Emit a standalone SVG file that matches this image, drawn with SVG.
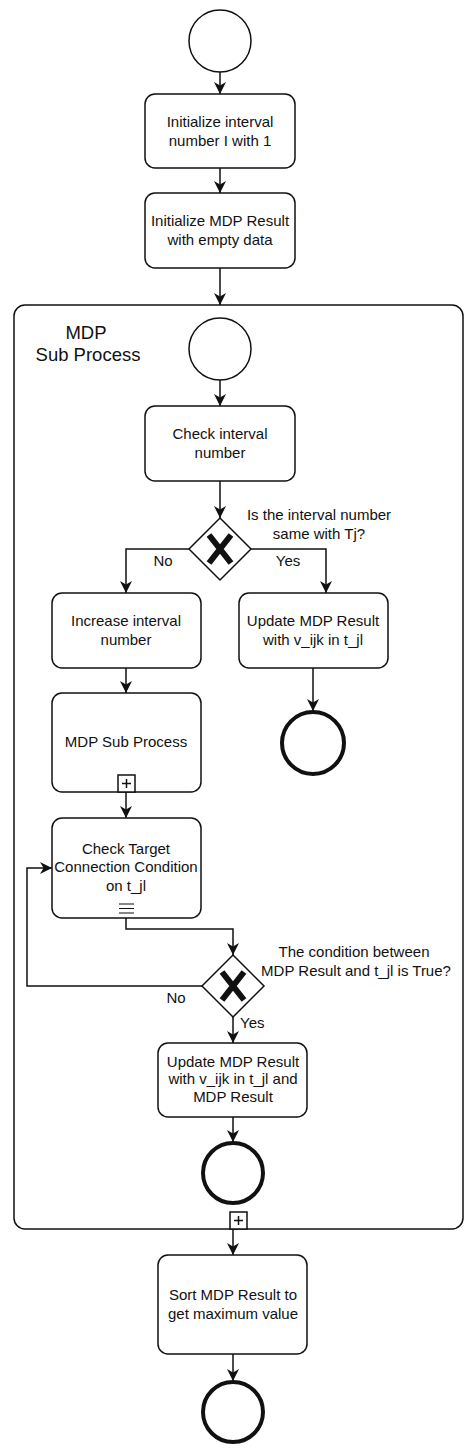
<svg xmlns="http://www.w3.org/2000/svg" width="474" height="1452" viewBox="0 0 474 1452">
<style>
.t{font-family:"Liberation Sans",Arial,sans-serif;font-size:15px;fill:#111;text-anchor:middle}
.box{fill:#fff;stroke:#111;stroke-width:1.5}
.ev{fill:#fff;stroke:#111;stroke-width:1.5}
.end{fill:#fff;stroke:#111;stroke-width:4}
.c{fill:none;stroke:#111;stroke-width:1.5}
.x{stroke:#111;stroke-width:6;stroke-linecap:butt}
</style>
<defs>
<marker id="a" markerUnits="userSpaceOnUse" markerWidth="12" markerHeight="12" refX="10" refY="5" orient="auto" viewBox="0 0 10 10">
<path d="M0,0 L10,5 L0,10 L3,5 z" fill="#111"/>
</marker>
</defs>
<rect width="474" height="1452" fill="#fff"/>
<g id="container">
<rect x="14" y="305" width="449" height="924" rx="11" class="box"/>
<text class="t" style="font-size:18.5px" x="86" y="339">MDP</text>
<text class="t" style="font-size:18.5px" x="88" y="361">Sub Process</text>
<rect x="230" y="1212" width="17" height="17" fill="#fff" stroke="#111" stroke-width="1.5"/>
<path d="M238.5,1216 V1225 M234,1220.5 H243" stroke="#111" stroke-width="1.5"/>
</g>
<g id="connectors">
<path class="c" marker-end="url(#a)" d="M220,72 V94"/>
<path class="c" marker-end="url(#a)" d="M220,168 V193"/>
<path class="c" marker-end="url(#a)" d="M220,268 V305"/>
<path class="c" marker-end="url(#a)" d="M220,380 V406"/>
<path class="c" marker-end="url(#a)" d="M220,481 V518"/>
<path class="c" marker-end="url(#a)" d="M189,549 H126 V593"/>
<path class="c" marker-end="url(#a)" d="M251,549 H326 V593"/>
<path class="c" marker-end="url(#a)" d="M313,668 V711"/>
<path class="c" marker-end="url(#a)" d="M126,668 V693"/>
<path class="c" marker-end="url(#a)" d="M126,792 V818"/>
<path class="c" marker-end="url(#a)" d="M126,918 V929 H233 V955"/>
<path class="c" marker-end="url(#a)" d="M202,986 H27 V868 H52"/>
<path class="c" marker-end="url(#a)" d="M233,1017 V1043"/>
<path class="c" marker-end="url(#a)" d="M233,1117 V1142"/>
<path class="c" marker-end="url(#a)" d="M233,1229 V1255"/>
<path class="c" marker-end="url(#a)" d="M233,1354 V1381"/>
<text class="t" x="163" y="566">No</text>
<text class="t" x="288" y="566">Yes</text>
<text class="t" x="176" y="1003">No</text>
<text class="t" x="240" y="1028" style="text-anchor:start">Yes</text>
</g>
<g id="start1"><circle cx="220" cy="41" r="31" class="ev"/></g>
<g id="init1">
<rect x="145" y="94" width="150" height="74" rx="10" class="box"/>
<text class="t" x="220" y="127">Initialize interval</text>
<text class="t" x="220" y="146">number I with 1</text>
</g>
<g id="init2">
<rect x="145" y="193" width="150" height="75" rx="10" class="box"/>
<text class="t" x="220" y="226">Initialize MDP Result</text>
<text class="t" x="220" y="245">with empty data</text>
</g>
<g id="start2"><circle cx="220" cy="349" r="31" class="ev"/></g>
<g id="check">
<rect x="145" y="406" width="150" height="75" rx="10" class="box"/>
<text class="t" x="220" y="439">Check interval</text>
<text class="t" x="220" y="458">number</text>
</g>
<g id="gw1">
<path d="M220,518 L251,549 L220,580 L189,549 Z" class="box"/>
<path d="M209,535 L231,563 M231,535 L209,563" class="x"/>
<text class="t" x="319" y="520">Is the interval number</text>
<text class="t" x="319" y="539">same with Tj?</text>
</g>
<g id="increase">
<rect x="52" y="593" width="149" height="75" rx="10" class="box"/>
<text class="t" x="126" y="626">Increase interval</text>
<text class="t" x="126" y="645">number</text>
</g>
<g id="update1">
<rect x="239" y="593" width="149" height="75" rx="10" class="box"/>
<text class="t" x="313" y="626">Update MDP Result</text>
<text class="t" x="313" y="645">with v_ijk in t_jl</text>
</g>
<g id="end1"><circle cx="313" cy="743" r="31" class="end"/></g>
<g id="subprocess">
<rect x="52" y="693" width="149" height="99" rx="10" class="box"/>
<text class="t" x="126" y="747">MDP Sub Process</text>
<rect x="118" y="775" width="17" height="17" fill="#fff" stroke="#111" stroke-width="1.5"/>
<path d="M126.5,779 V788 M122,783.5 H131" stroke="#111" stroke-width="1.5"/>
</g>
<g id="checkTarget">
<rect x="52" y="818" width="149" height="100" rx="10" class="box"/>
<text class="t" x="126" y="854">Check Target</text>
<text class="t" x="126" y="872">Connection Condition</text>
<text class="t" x="126" y="891">on t_jl</text>
<path d="M119,904 H134 M119,908.5 H134 M119,913 H134" stroke="#111" stroke-width="1.2"/>
</g>
<g id="gw2">
<path d="M233,955 L264,986 L233,1017 L202,986 Z" class="box"/>
<path d="M222,972 L244,1000 M244,972 L222,1000" class="x"/>
<text class="t" x="354" y="957">The condition between</text>
<text class="t" x="356" y="976">MDP Result and t_jl is True?</text>
</g>
<g id="update2">
<rect x="158" y="1043" width="149" height="74" rx="10" class="box"/>
<text class="t" x="233" y="1067">Update MDP Result</text>
<text class="t" x="233" y="1084">with v_ijk in t_jl and</text>
<text class="t" x="233" y="1102">MDP Result</text>
</g>
<g id="end2"><circle cx="233" cy="1173" r="30" class="end"/></g>
<g id="sort">
<rect x="158" y="1255" width="149" height="99" rx="10" class="box"/>
<text class="t" x="233" y="1300">Sort MDP Result to</text>
<text class="t" x="233" y="1319">get maximum value</text>
</g>
<g id="end3"><circle cx="233" cy="1412" r="30" class="end"/></g>
</svg>
